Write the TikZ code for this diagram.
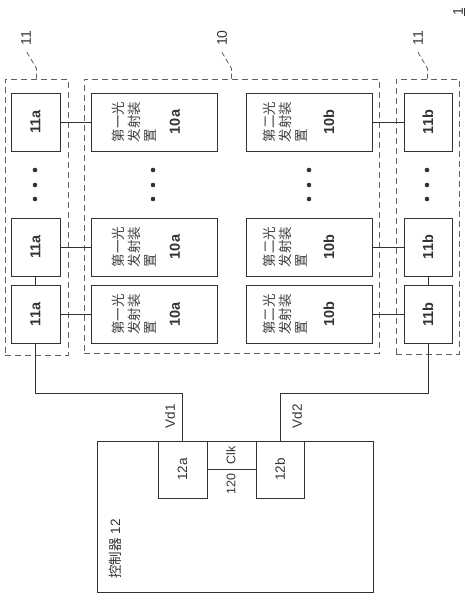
\documentclass[tikz,border=0pt]{standalone}
\usepackage{fontspec}
\setmainfont{Liberation Sans}
\newfontfamily\cjk{Noto Sans CJK SC}
\definecolor{linec}{HTML}{333333}
\definecolor{dashc}{HTML}{606060}
\begin{document}
\begin{tikzpicture}[x=1pt,y=-1pt,
  line width=0.9pt,
  color=linec,
  boxs/.style={draw=linec, rectangle, inner sep=0pt, line width=1pt},
  unitbox/.style={boxs, minimum width=49pt, minimum height=58pt},
  devbox/.style={boxs, minimum width=126pt, minimum height=58pt},
  grp/.style={draw=dashc, rectangle, inner sep=0pt, line width=1pt, dash pattern=on 6pt off 4pt},
  lead/.style={draw=dashc, line width=0.8pt, dash pattern=on 5pt off 3pt},
  tb/.style={font=\fontsize{14.5}{16}\selectfont\bfseries, text=linec, inner sep=0pt, rotate=90},
  tr/.style={font=\fontsize{13.5}{15}\selectfont, text=linec, inner sep=0pt, rotate=90},
  tcj/.style={font=\cjk\fontsize{13.5}{16}\selectfont, text=black!75, inner sep=0pt, rotate=90, align=left},
  dotc/.style={fill=linec, draw=none}
]
\useasboundingbox (0,0) rectangle (474,598);

% group boxes
\node[grp, minimum width=63pt, minimum height=276pt] (g1) at (36.5,217) {};
\node[grp, minimum width=295pt, minimum height=274pt] (g2) at (231.5,216) {};
\node[grp, minimum width=63pt, minimum height=275pt] (g3) at (427.5,216.5) {};

% group labels and leaders
\node[tr, font=\fontsize{14}{16}\selectfont] (l1) at (26,38) {11};
\node[tr, font=\fontsize{14}{16}\selectfont] (l2) at (222,38) {10};
\node[tr, font=\fontsize{14}{16}\selectfont] (l3) at (418,38) {11};
\draw[lead] (g1.north) -- ++(0,-10) -- ++(-10,-17);
\draw[lead] (g2.north) -- ++(0,-10) -- ++(-10,-17);
\draw[lead] (g3.north) -- ++(0,-10) -- ++(-10,-17);
\node[tr, font=\fontsize{14}{16}\selectfont] (one) at (459,12) {\underline{1}};

% rows
\foreach \n/\yy in {1/122,2/247,3/314.5} {
  \node[unitbox] (a\n) at (35.5,\yy) {};
  \node[tb] at (a\n) {11a};
  \node[devbox] (p\n) at (154,\yy) {};
  \node[tcj] at ([xshift=-20pt]p\n.center) {第一光\\发射装\\置};
  \node[tb] at ([xshift=21pt]p\n.center) {10a};
  \node[devbox] (q\n) at (309,\yy) {};
  \node[tcj] at ([xshift=-24pt]q\n.center) {第二光\\发射装\\置};
  \node[tb] at ([xshift=20pt]q\n.center) {10b};
  \node[unitbox, minimum width=48pt] (b\n) at (428,\yy) {};
  \node[tb] at (b\n) {11b};
  \draw (a\n) -- (p\n);
  \draw (q\n) -- (b\n);
}
\draw (a2) -- (a3);
\draw (b2) -- (b3);

% dots
\foreach \xx in {35,153,309,427} {
  \foreach \yy in {170,185,199} {
    \fill[dotc] (\xx,\yy) circle (2.3pt);
  }
}

% controller
\node[boxs, minimum width=276pt, minimum height=151pt] (ctl) at (235,516.5) {};
\node[boxs, minimum width=49pt, minimum height=57pt] (c12a) at (182.5,469.5) {};
\node[boxs, minimum width=48pt, minimum height=57pt] (c12b) at (280,469.5) {};
\draw (c12a.east) -- (c12b.west);
\node[tr] at (c12a) {12a};
\node[tr] at (c12b) {12b};
\node[tr, font=\fontsize{12.5}{15}\selectfont] (clk) at (231,455) {Clk};
\node[tr, font=\fontsize{12.5}{15}\selectfont] (n120) at (231,484) {120};
\node[tr, font=\fontsize{13.5}{15}\selectfont] (vd1) at (170,416) {Vd1};
\node[tr, font=\fontsize{13.5}{15}\selectfont] (vd2) at (297,416) {Vd2};
\node[tr] (ctlname) at (115,549) {{\cjk 控制器} 12};

% wires
\draw (a3.south) -- ++(0,49) -| (c12a.north);
\draw (b3.south) -- ++(0,49) -| (c12b.north);
\end{tikzpicture}
\end{document}
